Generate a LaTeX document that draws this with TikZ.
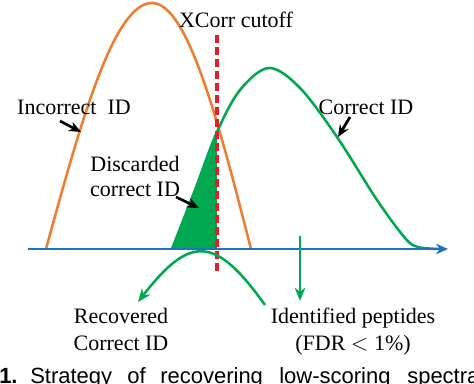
\documentclass[tikz,border=0pt]{standalone}
\usepackage{fontspec}
\setmainfont{Liberation Serif}
\setsansfont{Liberation Sans}
\usetikzlibrary{arrows.meta}
\definecolor{incorange}{RGB}{237,125,49}
\definecolor{corgreen}{RGB}{0,168,80}
\definecolor{axisblue}{RGB}{30,115,195}
\definecolor{cutred}{RGB}{226,30,45}

\begin{document}
\begin{tikzpicture}[x=0.75pt,y=-0.75pt,
    lbl/.style={font=\fontsize{16.5}{18.75}\selectfont,inner sep=0pt,align=center},
    capt/.style={font=\sffamily\fontsize{16.5}{19}\selectfont,inner sep=0pt,anchor=base west},
    callout/.style={-{Stealth[length=9pt,width=7.5pt]},line width=2pt,black},
    greenarrow/.style={-{Stealth[length=10pt,width=8pt]},line width=1.9pt,corgreen}]
\useasboundingbox (0,0) rectangle (474,384);
\clip (0,0) rectangle (474,384);

% distributions
\draw[incorange,line width=1.9pt] (46,249) sin (152,3) cos (251,249);
\draw[corgreen,line width=1.9pt] plot[smooth,tension=0.55] coordinates
    {(172,249) (195,190) (217,132) (240,90) (269,68) (300,88) (337,137)
     (377,200) (405,238) (418,247) (440,249)};
\fill[corgreen] (172,249) -- (217,132) -- (217,249) -- cycle;

% score axis
\coordinate (ax-start) at (28,249);
\coordinate (ax-end) at (448,249);
\draw[axisblue,line width=2.2pt,-{Stealth[length=9pt,width=8pt]}] (ax-start) -- (ax-end);

% cutoff
\coordinate (cut-top) at (217,35);
\coordinate (cut-bot) at (217,272);
\draw[cutred,line width=2.4pt,dash pattern=on 6pt off 3pt] (cut-top) -- (cut-bot);

% labels (base = last line)
\node[lbl,anchor=base] (xcorr) at (236,28) {XCorr cutoff};
\node[lbl,anchor=base] (incorrect) at (74,115) {Incorrect\ \ ID};
\node[lbl,anchor=base] (correct) at (366,115) {Correct ID};
\node[lbl,anchor=base] (discarded) at (135,197) {Discarded\\correct ID};
\node[lbl,anchor=base] (recovered) at (121,350) {Recovered\\[1.5pt]Correct ID};
\node[lbl,anchor=base] (identified) at (353,350) {Identified peptides\\[1.5pt](FDR $<$ 1\%)};

% callouts
\coordinate (inc-tail) at (60,121);
\coordinate (inc-tip) at (81,132);
\coordinate (cor-tail) at (350,117);
\coordinate (cor-tip) at (338,137);
\coordinate (dis-tail) at (176,197);
\coordinate (dis-tip) at (199,208);
\draw[callout] (inc-tail) -- (inc-tip);
\draw[callout] (cor-tail) -- (cor-tip);
\draw[callout] (dis-tail) -- (dis-tip);

% recovered / identified
\coordinate (rec-start) at (265,305);
\coordinate (rec-end) at (138,302);
\coordinate (id-top) at (300,236);
\coordinate (id-tip) at (300,301);
\draw[greenarrow] (rec-start) .. controls (215,235) and (190,235) .. (rec-end);
\draw[greenarrow] (id-top) -- (id-tip);

% caption (cut off)
\node[capt,font=\sffamily\bfseries\fontsize{16.5}{19}\selectfont] (cap-num) at (-1,383) {1.};
\foreach \w/\x in {Strategy/30,of/127,recovering/160,low-scoring/279,spectra/407}
    \node[capt] (cap-\w) at (\x,383) {\w};
\end{tikzpicture}
\end{document}
